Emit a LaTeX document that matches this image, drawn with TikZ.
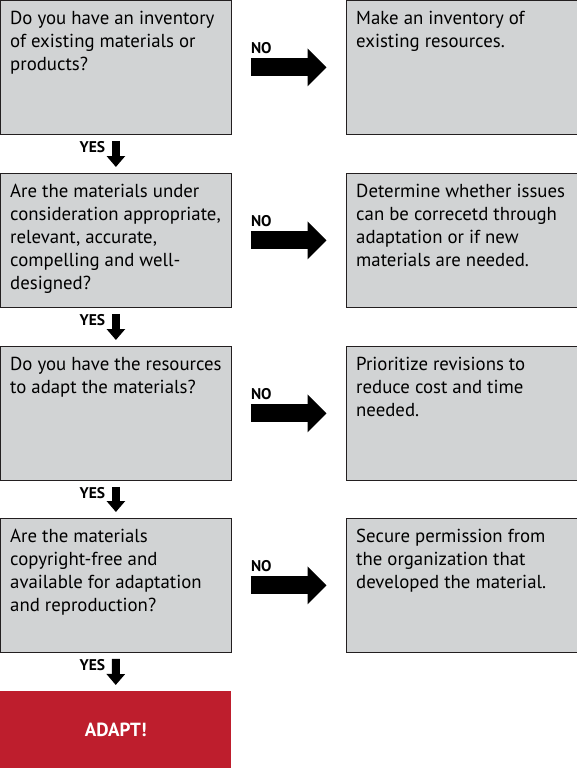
\documentclass[tikz,border=0pt]{standalone}
\usepackage{fontspec}
\setmainfont{PT Sans}
\usetikzlibrary{arrows.meta}
\definecolor{boxgray}{HTML}{D1D3D4}
\definecolor{boxline}{HTML}{231F20}
\definecolor{adaptred}{HTML}{BE1E2D}
\tikzset{
  qbox/.style={draw=boxline, line width=0.8pt, fill=boxgray, minimum width=231pt, minimum height=134pt, inner sep=0pt, anchor=north west},
  btext/.style={anchor=north west, align=left, inner sep=0pt, font=\fontsize{18.8}{23}\selectfont},
  noarrow/.style={line width=18pt, shorten <=19pt, shorten >=19.5pt, -{Triangle[width=37pt,length=19pt]}},
  yesarrow/.style={line width=8pt, shorten <=6pt, shorten >=6pt, -{Triangle[width=18pt,length=11pt]}},
  lbl/.style={inner sep=0pt, font=\fontsize{15.5}{17}\bfseries\selectfont},
}
\begin{document}
\begin{tikzpicture}[x=1pt,y=-1pt]
\useasboundingbox (0,0) rectangle (577,768);
% left boxes
\node[qbox] (q1) at (0,0) {};
\node[qbox] (q2) at (0,173) {};
\node[qbox] (q3) at (0,346) {};
\node[qbox] (q4) at (0,518) {};
% right boxes
\node[qbox] (r1) at (346,0) {};
\node[qbox] (r2) at (346,173) {};
\node[qbox] (r3) at (346,346) {};
\node[qbox] (r4) at (346,518) {};
% adapt box
\node[fill=adaptred, minimum width=231pt, minimum height=77pt, inner sep=0pt, anchor=north west] (ad) at (0,691) {};
\node[text=white, font=\fontsize{19}{20}\bfseries\selectfont] (adt) at (ad.center) {ADAPT!};
% texts
\node[btext] (t1) at ([xshift=10pt,yshift=-11pt]q1.north west) {Do you have an inventory\\of existing materials or\\products?};
\node[btext] (t2) at ([xshift=10pt,yshift=-11pt]q2.north west) {Are the materials under\\consideration appropriate,\\relevant, accurate,\\compelling and well-\\designed?};
\node[btext] (t3) at ([xshift=10pt,yshift=-11pt]q3.north west) {Do you have the resources\\to adapt the materials?};
\node[btext] (t4) at ([xshift=10pt,yshift=-11pt]q4.north west) {Are the materials\\copyright-free and\\available for adaptation\\and reproduction?};
\node[btext] (s1) at ([xshift=10pt,yshift=-11pt]r1.north west) {Make an inventory of\\existing resources.};
\node[btext] (s2) at ([xshift=10pt,yshift=-11pt]r2.north west) {Determine whether issues\\can be correcetd through\\adaptation or if new\\materials are needed.};
\node[btext] (s3) at ([xshift=10pt,yshift=-11pt]r3.north west) {Prioritize revisions to\\reduce cost and time\\needed.};
\node[btext] (s4) at ([xshift=10pt,yshift=-11pt]r4.north west) {Secure permission from\\the organization that\\developed the material.};
% NO arrows
\foreach \i in {1,2,3,4}{
  \draw[noarrow] (q\i.east) -- (r\i.west);
  \node[lbl, anchor=base west] (no\i) at ([xshift=19pt,yshift=13.7pt]q\i.east) {NO};
}
% YES arrows
\draw[yesarrow] (q1.south) -- (q2.north);
\draw[yesarrow] (q2.south) -- (q3.north);
\draw[yesarrow] (q3.south) -- (q4.north);
\draw[yesarrow] (q4.south) -- (ad.north);
\foreach \a/\b in {q1/y1,q2/y2,q3/y3,q4/y4}{
  \node[lbl, anchor=base east] (\b) at ([xshift=-10.5pt,yshift=-17.7pt]\a.south) {YES};
}
\end{tikzpicture}
\end{document}
